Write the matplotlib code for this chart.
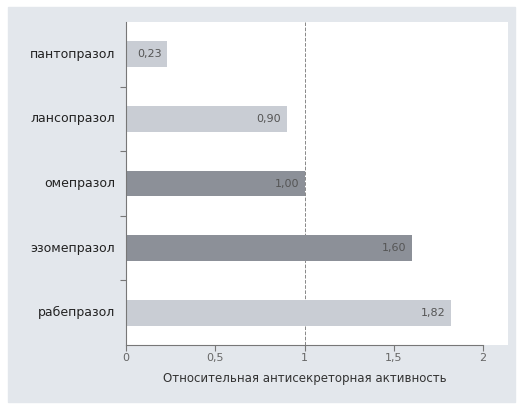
import matplotlib.pyplot as plt
import matplotlib.patches as mpatches

# Данные
drugs = ['пантопразол', 'лансопразол', 'омепразол', 'эзомепразол', 'рабепразол']
values = [0.23, 0.90, 1.00, 1.60, 1.82]
labels = ['0,23', '0,90', '1,00', '1,60', '1,82']
dark = [False, False, True, True, False]
xticks = [0, 0.5, 1, 1.5, 2]
xticklabels = ['0', '0,5', '1', '1,5', '2']

fig = plt.figure(figsize=(5.23, 4.07), dpi=100)
fig.patch.set_facecolor('white')
# серая подложка
fig.patches.append(mpatches.Rectangle((8/523, 5/407), 507/523, 395/407,
                                      transform=fig.transFigure, color='#e3e7ec', zorder=0))

ax = fig.add_axes([126/523, 1 - 345/407, 382/523, 323/407])
ax.set_facecolor('white')
ax.set_zorder(1)

xmax = 2 * 382 / 357
ax.set_xlim(0, xmax)
ax.set_ylim(len(drugs) - 0.5, -0.5)

cols = ['#8c9098' if d else '#c9cdd4' for d in dark]
ax.barh(range(len(drugs)), values, height=0.4, color=cols, zorder=2)
for i, (v, lab) in enumerate(zip(values, labels)):
    ax.text(v - 0.03, i, lab, ha='right', va='center', fontsize=8, color='#555555', zorder=3)

ax.axvline(1, color='#888888', linestyle='--', linewidth=0.7, zorder=1)

for s in ['top', 'right']:
    ax.spines[s].set_visible(False)
ax.spines['left'].set_color('#777777')
ax.spines['bottom'].set_color('#777777')
ax.spines['bottom'].set_bounds(0, 2)

ax.set_xticks(xticks)
ax.set_xticklabels(xticklabels, fontsize=8, color='#666666')
ax.tick_params(axis='x', direction='out', length=4, color='#777777', pad=2)

# названия препаратов и засечки между категориями
ax.set_yticks([i + 0.5 for i in range(len(drugs) - 1)])
ax.set_yticklabels([])
ax.tick_params(axis='y', direction='out', length=4, color='#777777')
for i, d in enumerate(drugs):
    ax.text(-0.06, i, d, ha='right', va='center', fontsize=9, color='#222222')

ax.set_xlabel('Относительная антисекреторная активность', fontsize=8.5, color='#333333')
ax.xaxis.set_label_coords(1 / xmax, -0.085)

fig.savefig('out.png', dpi=100, facecolor='white')
